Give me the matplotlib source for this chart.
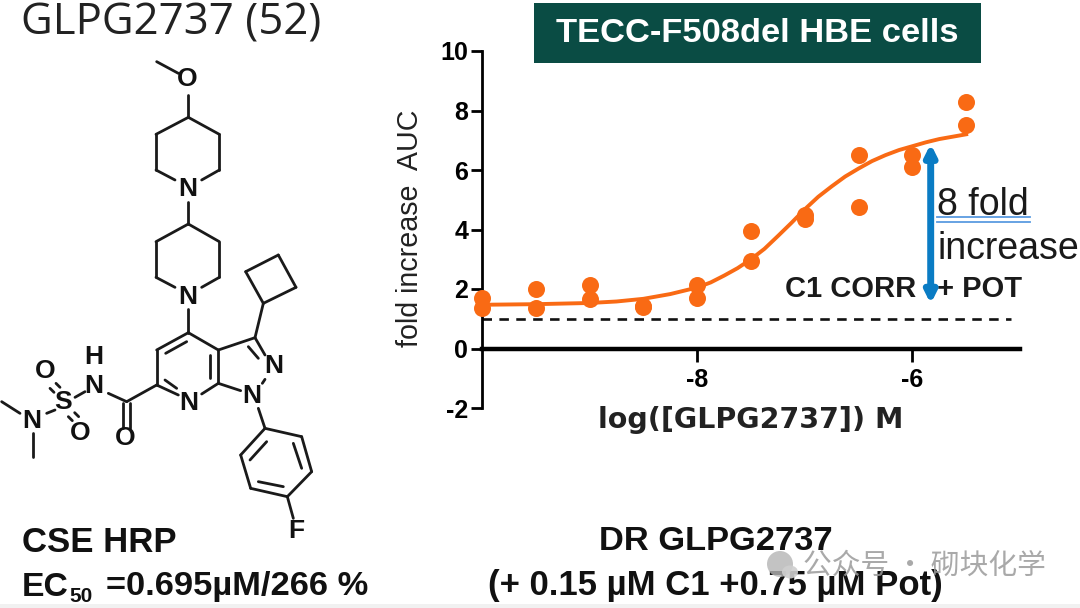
import matplotlib
matplotlib.use("Agg")
import matplotlib.pyplot as plt
from matplotlib.patches import Rectangle, Circle, Ellipse

# replicate points
log_conc = [-10, -10, -9.5, -9.5, -9, -9, -8.5, -8.5, -8, -8, -7.5, -7.5, -7, -7, -6.5, -6.5, -6, -6, -5.5, -5.5]
fold_auc = [1.7, 1.35, 2.0, 1.35, 2.15, 1.65, 1.42, 1.38, 2.15, 1.7, 3.95, 2.95, 4.5, 4.35, 6.5, 4.75, 6.5, 6.1, 8.3, 7.5]

# fitted curve
fit_x = [-10, -9.5, -9, -8.75, -8.5, -8.25, -8, -7.875, -7.75, -7.625, -7.5, -7.375, -7.25, -7.125, -7, -6.875, -6.75,
         -6.625, -6.5, -6.375, -6.25, -6.125, -6, -5.875, -5.75, -5.625, -5.5]
fit_y = [1.47, 1.49, 1.53, 1.58, 1.67, 1.83, 2.05, 2.22, 2.45, 2.7, 3.0, 3.35, 3.78, 4.22, 4.68, 5.1, 5.45,
         5.78, 6.05, 6.3, 6.5, 6.67, 6.8, 6.93, 7.04, 7.12, 7.2]

y_ticks = [-2, 0, 2, 4, 6, 8, 10]
x_ticks = [-8, -6]

# structure drawing, in the pixel coordinates of a 3x crop with origin (0, 40)
bonds = [
    ((470, 65), (535, 100)), ((565, 165), (565, 232)),
    ((565, 232), (658, 283)), ((658, 283), (658, 390)), ((658, 390), (605, 420)),
    ((525, 420), (468, 390)), ((468, 390), (468, 283)), ((468, 283), (565, 232)),
    ((565, 485), (565, 552)),
    ((565, 552), (658, 605)), ((658, 605), (658, 712)), ((658, 712), (605, 742)),
    ((525, 742), (468, 712)), ((468, 712), (468, 605)), ((468, 605), (565, 552)),
    ((565, 808), (565, 878)),
    ((565, 878), (655, 930)), ((655, 930), (655, 1030)), ((655, 1030), (605, 1062)),
    ((535, 1065), (470, 1035)), ((470, 1035), (470, 930)), ((470, 930), (565, 878)),
    ((560, 905), (497, 940)), ((630, 945), (630, 1015)), ((495, 1020), (530, 1045)),
    ((655, 930), (765, 893)), ((765, 893), (795, 945)), ((745, 920), (775, 955)),
    ((795, 1018), (787, 1030)), ((722, 1052), (655, 1030)),
    ((765, 893), (790, 790)), ((790, 790), (737, 695)), ((737, 695), (835, 645)),
    ((835, 645), (888, 742)), ((888, 742), (790, 790)),
    ((775, 1105), (795, 1165)),
    ((795, 1165), (905, 1190)), ((905, 1190), (935, 1295)), ((935, 1295), (862, 1370)),
    ((862, 1370), (752, 1345)), ((752, 1345), (722, 1245)), ((722, 1245), (795, 1165)),
    ((880, 1210), (905, 1285)), ((850, 1340), (775, 1325)), ((750, 1260), (800, 1205)),
    ((862, 1370), (880, 1435)),
    ((470, 1035), (380, 1085)), ((380, 1085), (325, 1060)),
    ((368, 1090), (368, 1165)), ((390, 1090), (390, 1165)),
    ((255, 1055), (225, 1072)), ((165, 1110), (140, 1120)),
    ((150, 1045), (162, 1057)), ((168, 1030), (180, 1042)),
    ((205, 1130), (217, 1142)), ((224, 1118), (236, 1130)),
    ((60, 1120), (5, 1085)), ((98, 1180), (98, 1250)),
]
atoms = [
    ("O", 563, 118), ("N", 563, 447), ("N", 563, 770), ("N", 565, 1090), ("N", 820, 978), ("N", 755, 1068),
    ("F", 888, 1472), ("O", 375, 1195), ("H", 282, 952), ("N", 280, 1037), ("S", 190, 1087),
    ("O", 135, 992), ("O", 240, 1180), ("N", 95, 1142),
]


def crop_xy(x, y):
    return x / 3, 40 + y / 3


plt.rcParams["font.family"] = ["Liberation Sans", "DejaVu Sans"]
plt.rcParams["axes.unicode_minus"] = False
fig = plt.figure(figsize=(10.8, 6.08), dpi=100)

# whole-figure layer in pixels for everything around the plot
bg = fig.add_axes([0, 0, 1, 1])
bg.set_xlim(0, 1080)
bg.set_ylim(608, 0)
bg.axis("off")
bg.add_patch(Rectangle((0, 604), 1080, 4, color="#f1f1f1", lw=0))
bg.add_patch(Rectangle((534, 3), 447, 60, color="#0a4c44", lw=0))
bg.text(757, 33, "TECC-F508del HBE cells", color="white", fontsize=24.8, fontweight="bold", ha="center", va="center")
bg.text(21, 35, "GLPG2737 (52)", family="Open Sans", fontsize=31.5, color="#222222", va="baseline")

for a, b in bonds:
    x0, y0 = crop_xy(*a)
    x1, y1 = crop_xy(*b)
    bg.plot([x0, x1], [y0, y1], color="#1a1a1a", lw=2, solid_capstyle="round")
for label, x, y in atoms:
    px, py = crop_xy(x, y)
    bg.text(px, py, label, fontsize=19, fontweight="bold", color="#111111", ha="center", va="center")

bg.text(22, 543, "CSE HRP", fontsize=25, fontweight="bold", va="center", color="#111111")
bg.text(22, 587, "EC", fontsize=24.3, fontweight="bold", va="center", color="#111111")
bg.text(69, 596, "50", fontsize=15, fontweight="bold", va="center", color="#111111")
bg.text(106, 587, "=0.695µM/266 %", fontsize=24.8, fontweight="bold", va="center", color="#111111")
bg.text(716, 541, "DR GLPG2737", fontsize=24.8, fontweight="bold", ha="center", va="center", color="#111111")
bg.text(715, 585, "(+ 0.15 µM C1 +0.75 µM Pot)", fontsize=25, fontweight="bold", ha="center", va="center", color="#111111")

ax = fig.add_axes([482 / 1080, (608 - 408) / 608, (1020 - 482) / 1080, (408 - 51) / 608])
ax.patch.set_alpha(0)
ax.set_xlim(-10, -5)
ax.set_ylim(-2, 10)
ax.plot(fit_x, fit_y, color="#f96a14", lw=2.8, clip_on=False, zorder=3)
ax.scatter(log_conc, fold_auc, s=150, color="#f96a14", lw=0, clip_on=False, zorder=4)
ax.plot([-10, -5.08], [1, 1], color="#111111", lw=1.9, dashes=(3.6, 2.8))

for side in ["top", "right"]:
    ax.spines[side].set_visible(False)
ax.spines["bottom"].set_position(("data", 0))
ax.spines["bottom"].set_linewidth(3.2)
ax.spines["left"].set_linewidth(2)
ax.set_xticks(x_ticks)
ax.set_yticks(y_ticks)
ax.tick_params(axis="y", width=2, length=8, labelsize=18, pad=2)
ax.tick_params(axis="x", width=2, length=9, labelsize=18, pad=5)
for t in ax.get_xticklabels() + ax.get_yticklabels():
    t.set_fontweight("bold")
ax.set_ylabel("fold increase  AUC", fontsize=20.6, color="#222222")
ax.yaxis.set_label_coords(-0.107, 0.503, transform=ax.transAxes)
ax.text(-7.5, -2.42, "log([GLPG2737]) M", family="DejaVu Sans", fontsize=20.5, fontweight="bold", ha="center",
        va="center", color="#222222", clip_on=False)

# blue double arrow and its notes
ax.annotate("", xy=(-5.83, 6.88), xytext=(-5.83, 1.5),
            arrowprops=dict(arrowstyle="<|-|>", color="#0a7cc4", lw=5, mutation_scale=16, shrinkA=0, shrinkB=0))
bg.text(937, 205, "8 fold", fontsize=27, color="#1a1a1a", va="center")
bg.plot([937, 1030], [217, 217], color="#5a9be0", lw=1.3)
bg.plot([937, 1030], [222, 222], color="#5a9be0", lw=1.3)
bg.text(937, 249, "increase", fontsize=27, color="#1a1a1a", va="center")
bg.text(785, 289, "C1 CORR", fontsize=21, fontweight="bold", color="#1a1a1a", va="center")
bg.text(937, 289, "+ POT", fontsize=21, fontweight="bold", color="#1a1a1a", va="center")

# watermark
wm = fig.add_axes([0, 0, 1, 1])
wm.set_xlim(0, 1080)
wm.set_ylim(608, 0)
wm.axis("off")
wm.patch.set_alpha(0)
wm.add_patch(Circle((780, 564), 13, color="#b5b5b5", alpha=0.8, lw=0))
wm.add_patch(Ellipse((790, 572), 16, 13, color="#cfcfcf", alpha=0.9, lw=0))
wm.text(803, 566, "公众号 · 砌块化学", family=["Noto Sans CJK SC", "DejaVu Sans"], fontsize=20.7, color="#9a9a9a",
        alpha=0.85, va="center")

fig.savefig("out.png", dpi=100)
